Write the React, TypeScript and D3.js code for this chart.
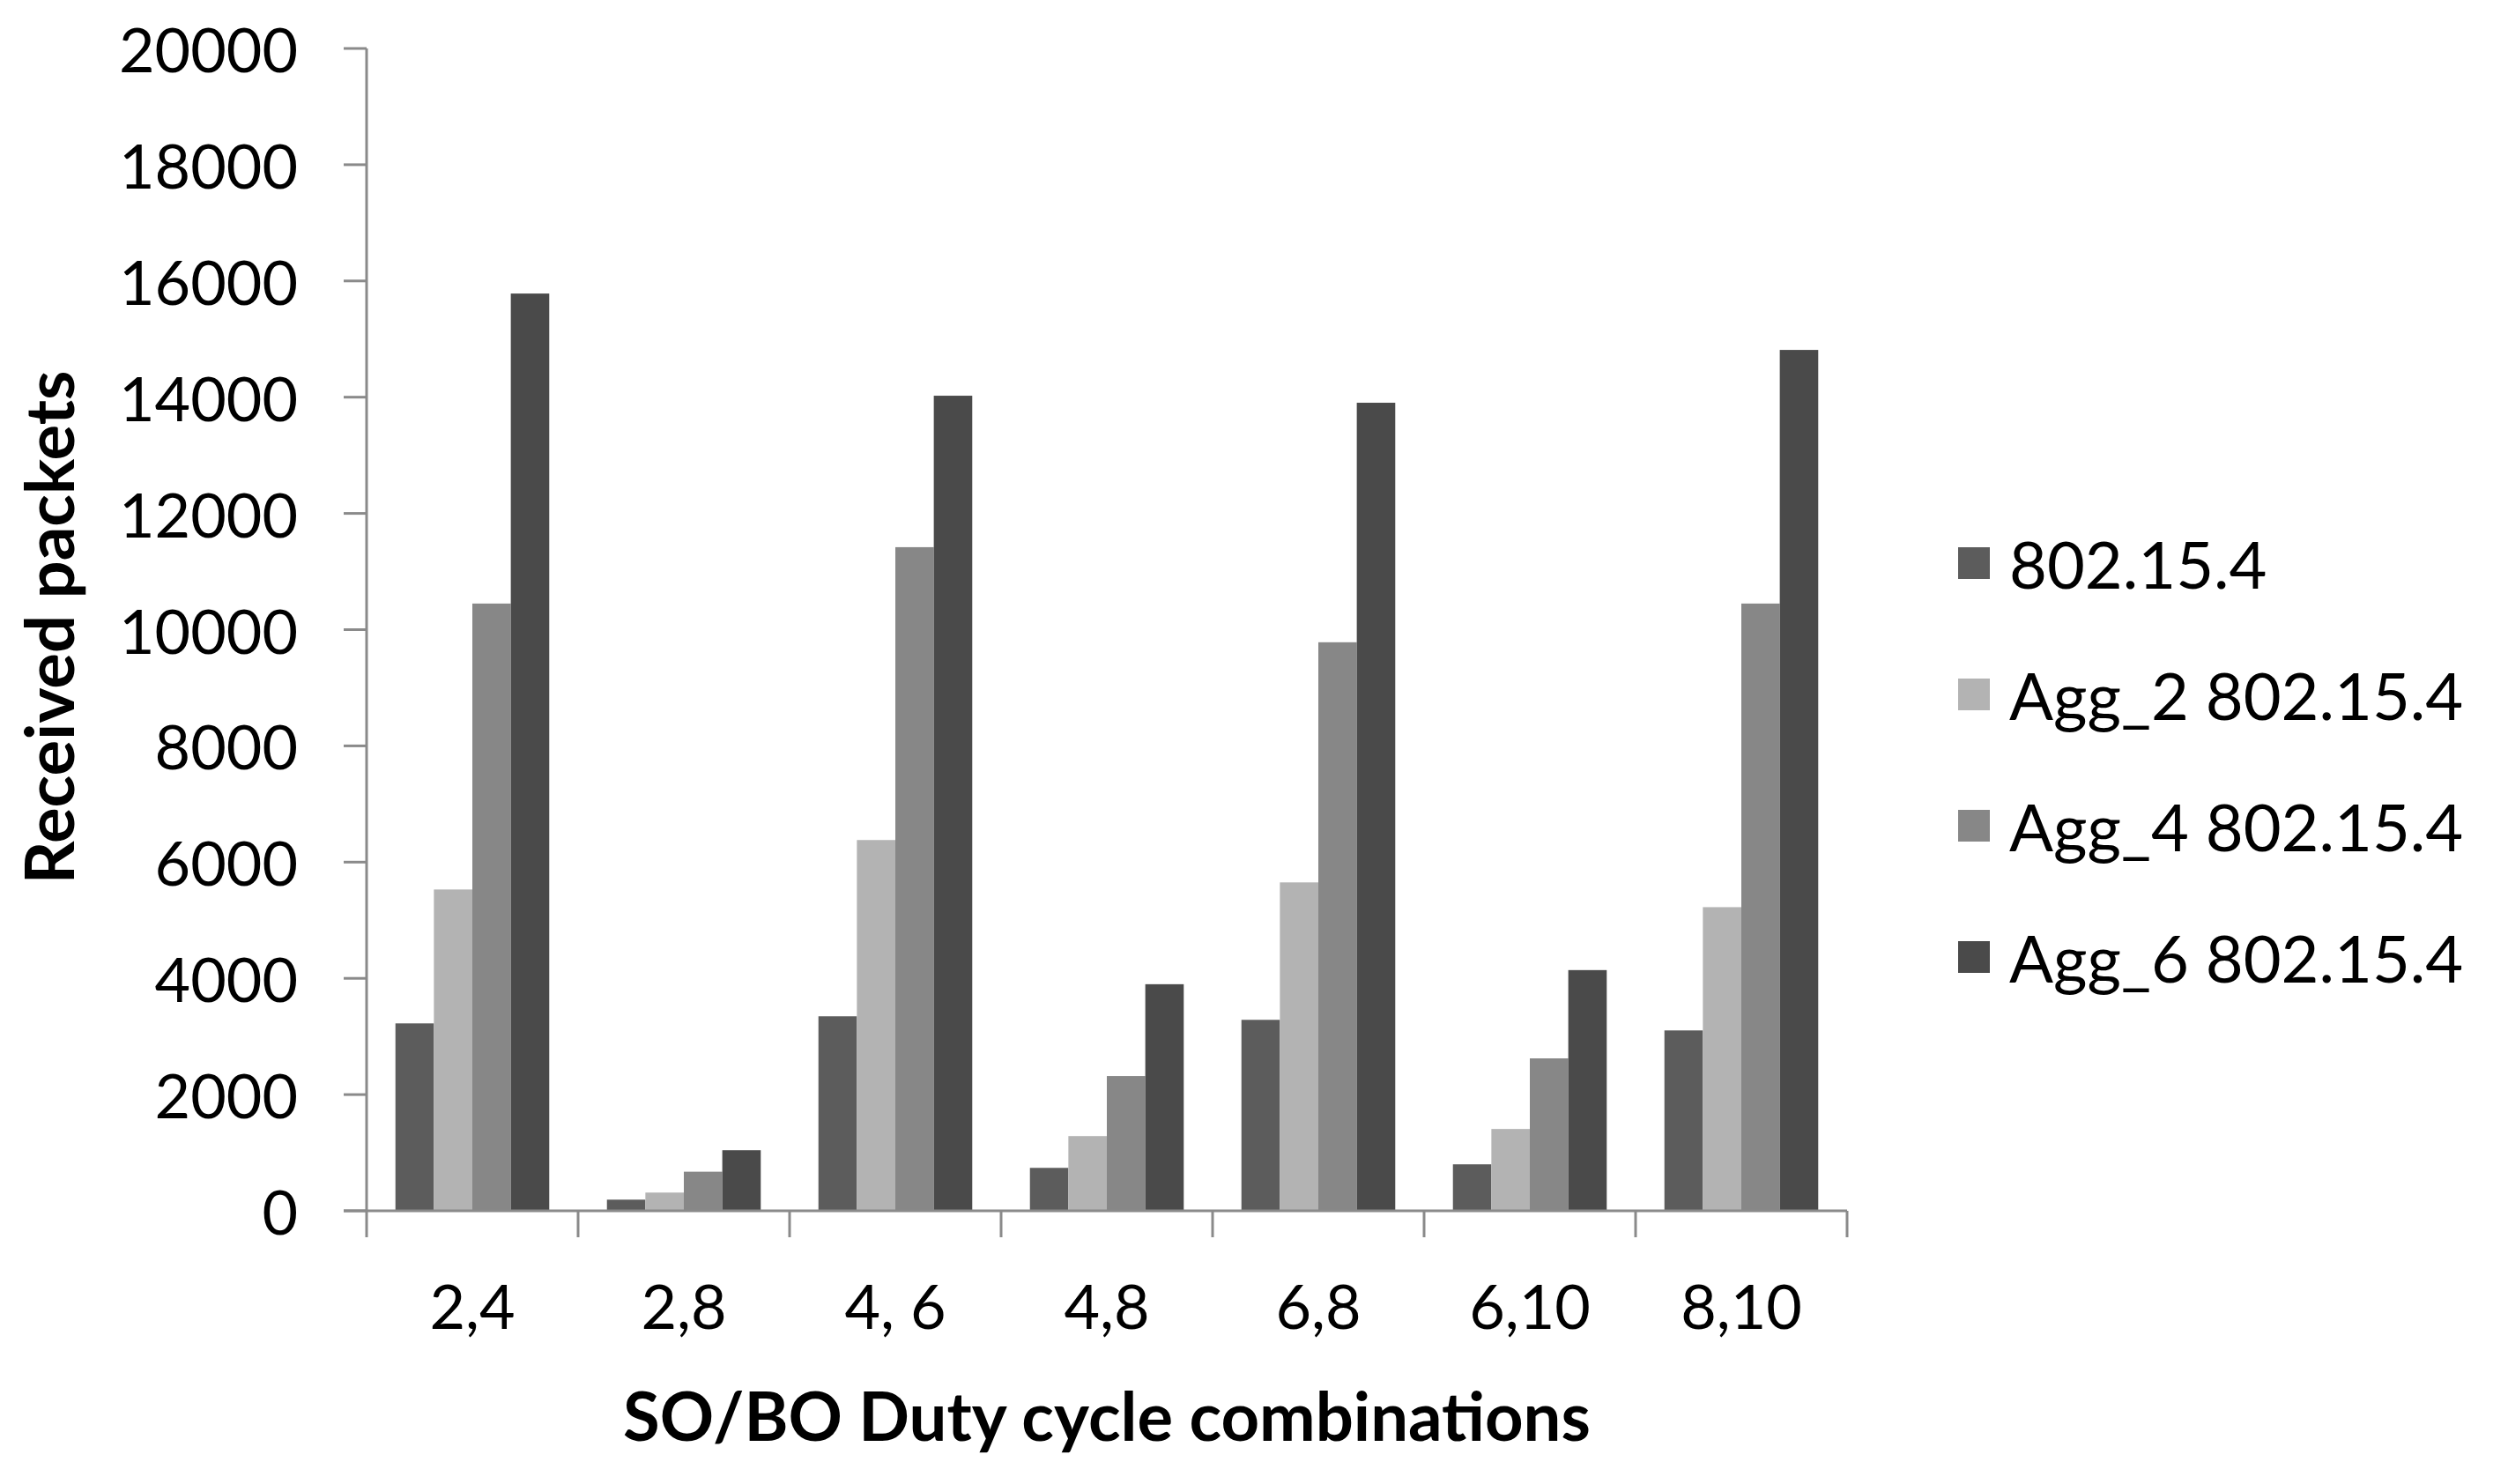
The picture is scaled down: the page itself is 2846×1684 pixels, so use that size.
import React from 'react';
import * as d3 from 'd3';

const categories = ['2,4', '2,8', '4, 6', '4,8', '6,8', '6,10', '8,10'];
const seriesNames = ['802.15.4', 'Agg_2 802.15.4', 'Agg_4 802.15.4', 'Agg_6 802.15.4'];
const s802 = [3225, 192, 3347, 739, 3286, 800, 3104];
const sAgg2 = [5529, 314, 6380, 1286, 5651, 1408, 5225];
const sAgg4 = [10449, 673, 11419, 2319, 9783, 2623, 10449];
const sAgg6 = [15783, 1043, 14025, 3899, 13904, 4142, 14813];
const yTicks = [0, 2000, 4000, 6000, 8000, 10000, 12000, 14000, 16000, 18000, 20000];
const colors = ['#5c5c5c', '#b3b3b3', '#878787', '#4a4a4a'];

const W = 2846;
const H = 1684;
const left = 416;
const right = 2096;
const top = 55;
const bottom = 1374;
const axisColor = '#8a8a8a';
const font = 'Lato, "Noto Sans", sans-serif';

export default function App() {
  const seriesValues = [s802, sAgg2, sAgg4, sAgg6];
  const x = d3.scaleBand<string>().domain(categories).range([left, right]).paddingInner(0).paddingOuter(0);
  const xs = d3
    .scaleBand<string>()
    .domain(seriesNames)
    .range([0, x.bandwidth()])
    .paddingInner(0)
    .paddingOuter(0.75);
  const y = d3.scaleLinear().domain([0, 20000]).range([bottom, top]);

  const boundaries = d3.range(categories.length + 1).map((i) => left + i * x.step());

  return (
    <div style={{ position: 'absolute', left: 0, top: 0 }}>
      <svg width={W} height={H} viewBox={`0 0 ${W} ${H}`} style={{ display: 'block', background: '#fff' }}>
        <rect x={0} y={0} width={W} height={H} fill="#fff" />
        {/* bars */}
        {categories.map((c, ci) => (
          <g key={c}>
            {seriesNames.map((s, si) => {
              const v = seriesValues[si][ci];
              return (
                <rect
                  key={s}
                  x={(x(c) as number) + (xs(s) as number)}
                  y={y(v)}
                  width={xs.bandwidth()}
                  height={bottom - y(v)}
                  fill={colors[si]}
                />
              );
            })}
          </g>
        ))}
        {/* y axis */}
        <line x1={left} x2={left} y1={top} y2={bottom} stroke={axisColor} strokeWidth={3} />
        {yTicks.map((t) => (
          <g key={t}>
            <line x1={left - 26} x2={left} y1={y(t)} y2={y(t)} stroke={axisColor} strokeWidth={3} />
            <text
              x={338}
              y={y(t)}
              textAnchor="end"
              dominantBaseline="central"
              fontFamily={font}
              fontSize={70}
              fill="#000"
            >
              {t}
            </text>
          </g>
        ))}
        {/* x axis */}
        <line x1={left - 26} x2={right} y1={bottom} y2={bottom} stroke={axisColor} strokeWidth={3} />
        {boundaries.map((b, i) => (
          <line key={i} x1={b} x2={b} y1={bottom} y2={bottom + 30} stroke={axisColor} strokeWidth={3} />
        ))}
        {categories.map((c) => (
          <text
            key={c}
            x={(x(c) as number) + x.bandwidth() / 2}
            y={1508}
            textAnchor="middle"
            fontFamily={font}
            fontSize={70}
            fill="#000"
          >
            {c}
          </text>
        ))}
        <text
          x={(left + right) / 2}
          y={1635}
          textAnchor="middle"
          fontFamily={font}
          fontWeight="bold"
          fontSize={76}
          fill="#000"
        >
          SO/BO Duty cycle combinations
        </text>
        <text
          transform={`translate(84, 712) rotate(-90)`}
          textAnchor="middle"
          fontFamily={font}
          fontWeight="bold"
          fontSize={76}
          fill="#000"
        >
          Received packets
        </text>
        {/* legend */}
        {seriesNames.map((s, si) => {
          const cy = 639 + si * 149;
          return (
            <g key={s}>
              <rect x={2222} y={cy - 18} width={36} height={36} fill={colors[si]} />
              <text x={2280} y={cy} dominantBaseline="central" fontFamily={font} fontSize={74} fill="#000">
                {s}
              </text>
            </g>
          );
        })}
      </svg>
    </div>
  );
}
